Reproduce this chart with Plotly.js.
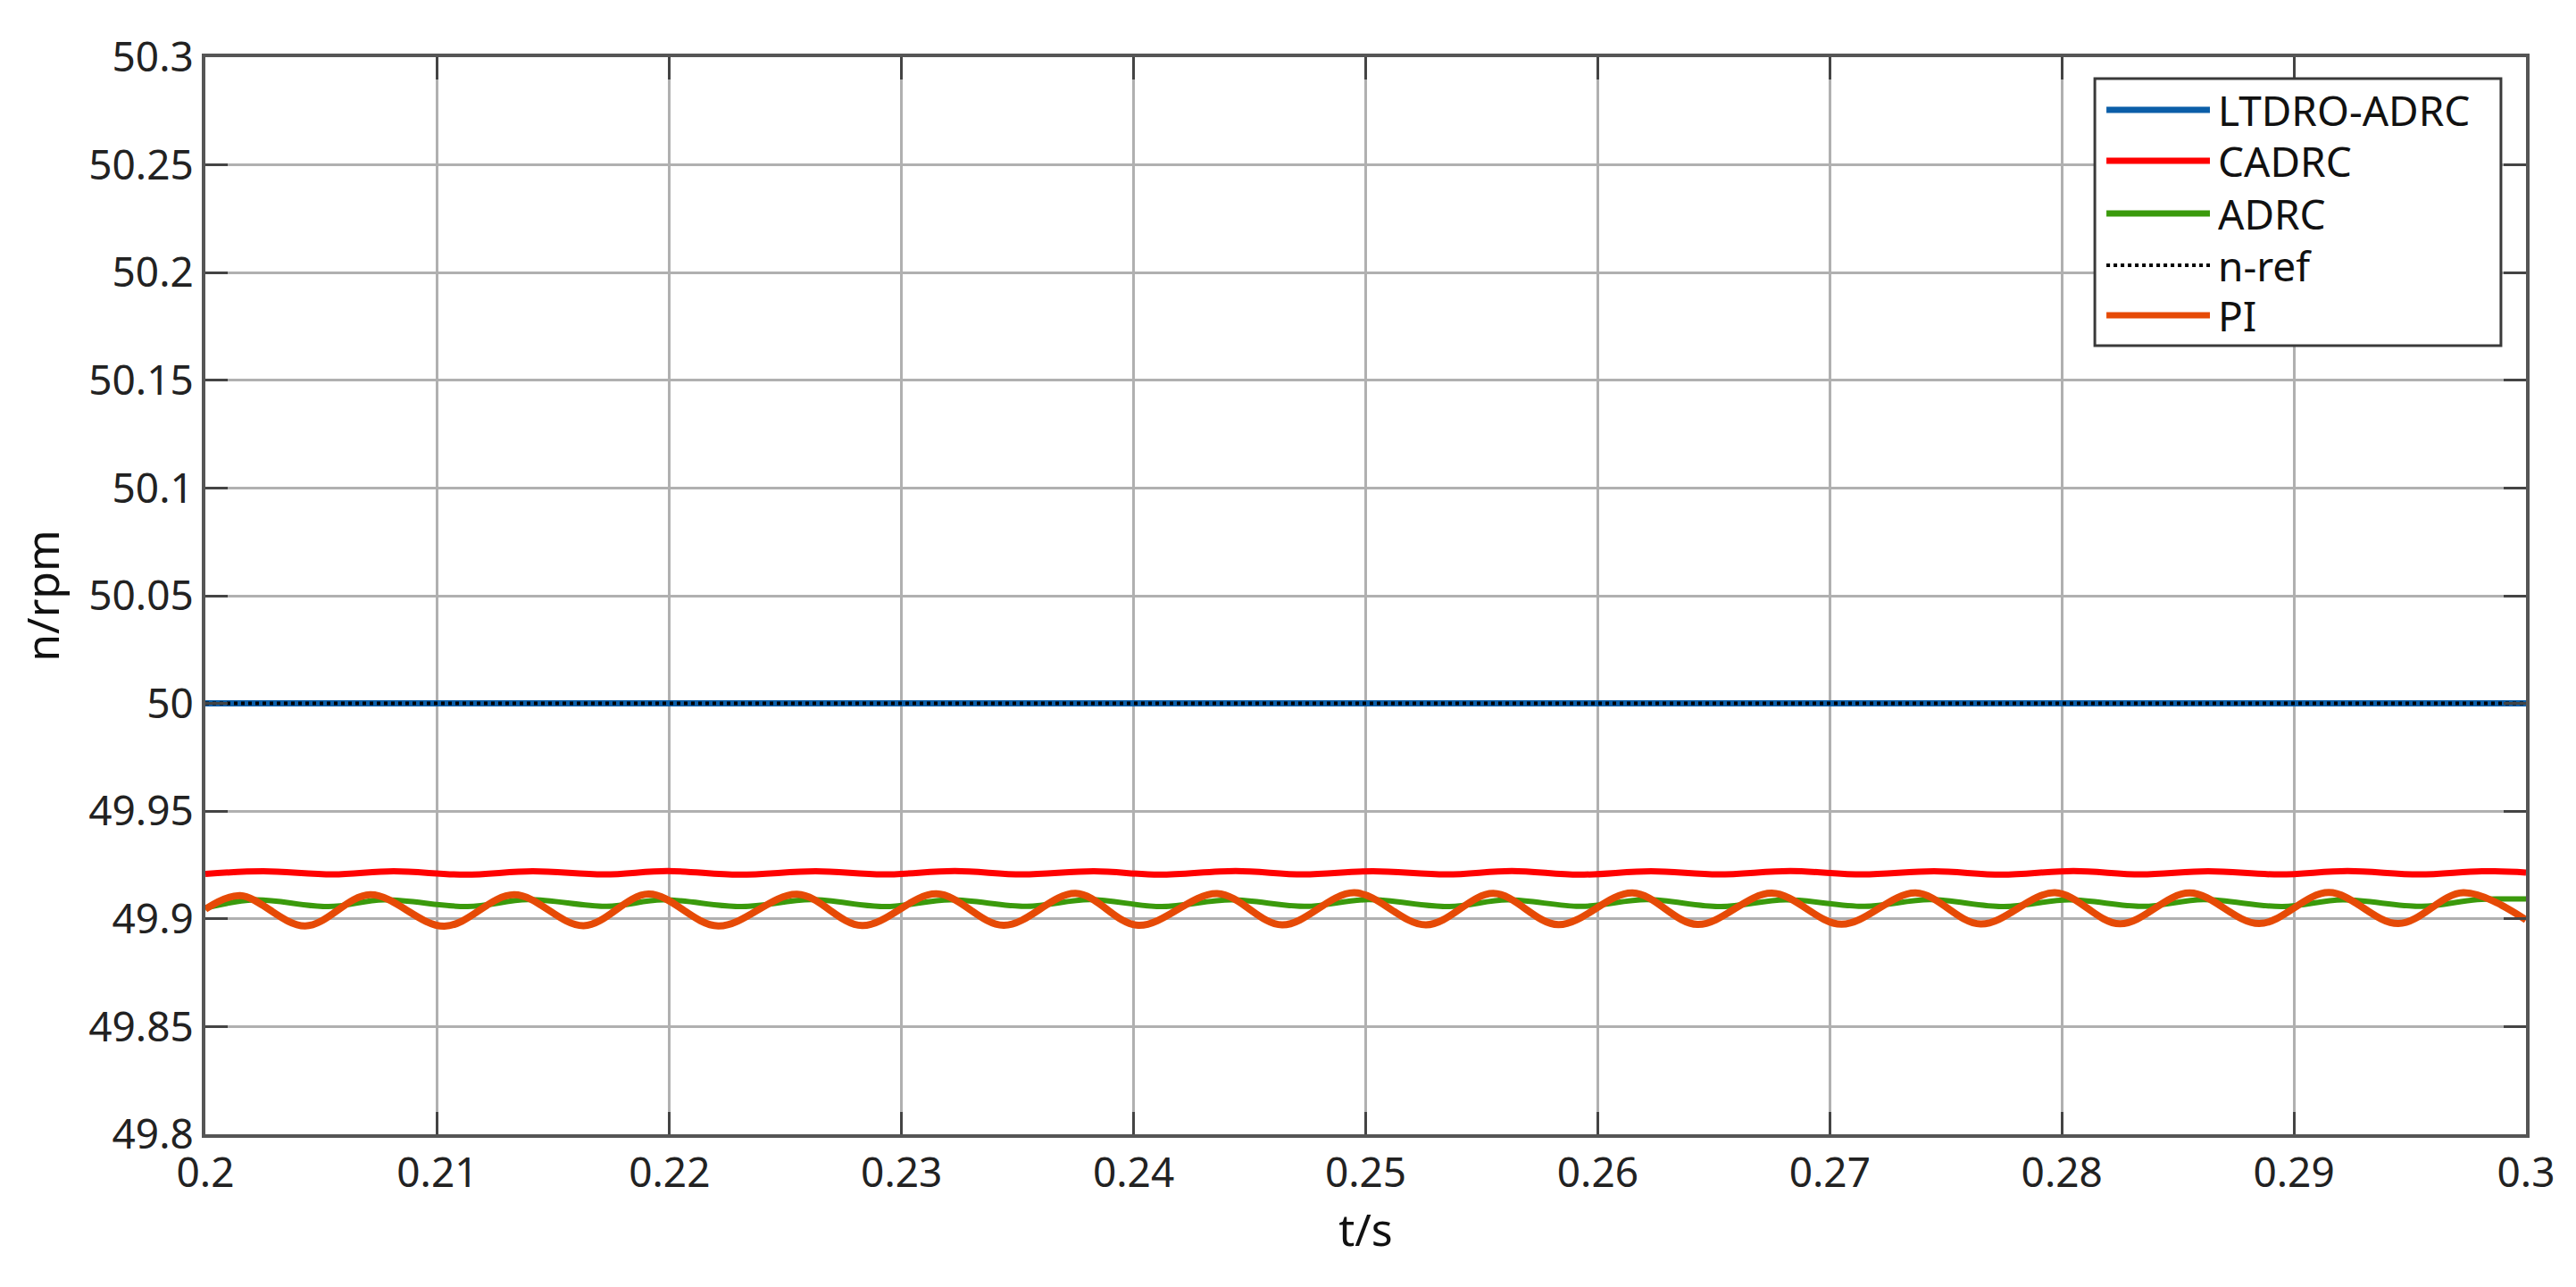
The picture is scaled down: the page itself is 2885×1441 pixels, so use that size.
<!DOCTYPE html>
<html>
<head>
<meta charset="utf-8">
<script src="https://cdn.plot.ly/plotly-3.0.1.min.js"></script>
<style>
  html, body { margin: 0; padding: 0; background: #fff; }
  #chart { width: 2885px; height: 1441px; }
</style>
</head>
<body>
<div id="chart"></div>
<script>
// reference speed and LTDRO-ADRC both sit flat on 50 rpm
var tFlat = [0.2, 0.3];
var nRef = [50, 50];
var nLtdro = [50, 50];

// CADRC: small ripple around 49.921
var tCadrc = [0.2000, 0.2025, 0.2055, 0.2081, 0.2112, 0.2141, 0.2172, 0.2199, 0.2230, 0.2263,
              0.2292, 0.2323, 0.2352, 0.2383, 0.2411, 0.2444, 0.2473, 0.2503, 0.2535, 0.2563,
              0.2592, 0.2623, 0.2652, 0.2683, 0.2714, 0.2745, 0.2774, 0.2805, 0.2834, 0.2863,
              0.2894, 0.2923, 0.2954, 0.2981, 0.3000];
var nCadrc = [49.9209, 49.9221, 49.9206, 49.9221, 49.9205, 49.9221, 49.9206, 49.9222, 49.9205, 49.9221,
              49.9206, 49.9222, 49.9206, 49.9221, 49.9205, 49.9222, 49.9206, 49.9221, 49.9206, 49.9222,
              49.9205, 49.9221, 49.9206, 49.9222, 49.9206, 49.9221, 49.9205, 49.9222, 49.9206, 49.9221,
              49.9206, 49.9222, 49.9206, 49.9221, 49.9215];

// ADRC
var tAdrc = [0.2000, 0.2021, 0.2053, 0.2077, 0.2113, 0.2139, 0.2173, 0.2197, 0.2231, 0.2261,
             0.2293, 0.2321, 0.2354, 0.2381, 0.2412, 0.2442, 0.2474, 0.2501, 0.2536, 0.2561,
             0.2593, 0.2621, 0.2653, 0.2681, 0.2715, 0.2743, 0.2775, 0.2803, 0.2835, 0.2861,
             0.2895, 0.2921, 0.2955, 0.2979, 0.3000];
var nAdrc = [49.9050, 49.9088, 49.9057, 49.9088, 49.9057, 49.9089, 49.9058, 49.9088, 49.9057, 49.9089,
             49.9057, 49.9088, 49.9058, 49.9089, 49.9057, 49.9088, 49.9058, 49.9089, 49.9057, 49.9088,
             49.9058, 49.9089, 49.9057, 49.9088, 49.9058, 49.9089, 49.9057, 49.9088, 49.9058, 49.9089,
             49.9057, 49.9088, 49.9058, 49.9089, 49.9092];

// PI: the big ripple, peaks and troughs
var tPi = [0.2000, 0.2015, 0.2043, 0.2071, 0.2103, 0.2133, 0.2163, 0.2191, 0.2221, 0.2255,
           0.2283, 0.2315, 0.2344, 0.2375, 0.2402, 0.2436, 0.2464, 0.2495, 0.2526, 0.2555,
           0.2583, 0.2615, 0.2643, 0.2675, 0.2705, 0.2737, 0.2765, 0.2797, 0.2825, 0.2855,
           0.2885, 0.2915, 0.2945, 0.2973, 0.3000];
var nPi = [49.9045, 49.9108, 49.8967, 49.9112, 49.8966, 49.9112, 49.8968, 49.9115, 49.8967, 49.9114,
           49.8969, 49.9116, 49.8970, 49.9118, 49.8970, 49.9117, 49.8972, 49.9121, 49.8972, 49.9118,
           49.8973, 49.9120, 49.8974, 49.9119, 49.8975, 49.9120, 49.8976, 49.9121, 49.8977, 49.9120,
           49.8978, 49.9122, 49.8978, 49.9121, 49.8995];

var xTicks = [0.2, 0.21, 0.22, 0.23, 0.24, 0.25, 0.26, 0.27, 0.28, 0.29, 0.3];
var yTicks = [49.8, 49.85, 49.9, 49.95, 50, 50.05, 50.1, 50.15, 50.2, 50.25, 50.3];

var names = ['LTDRO-ADRC', 'CADRC', 'ADRC', 'n-ref', 'PI'];
var colors = ['#0b5ea8', '#ff0000', '#3a9a0c', '#000000', '#e64a06'];

var ltdro = {
    x: tFlat, y: nLtdro, name: names[0], mode: 'lines',
    line: { color: colors[0], width: 7 }
};
var cadrc = {
    x: tCadrc, y: nCadrc, name: names[1], mode: 'lines',
    line: { color: colors[1], width: 7, shape: 'spline', smoothing: 1 }
};
var adrc = {
    x: tAdrc, y: nAdrc, name: names[2], mode: 'lines',
    line: { color: colors[2], width: 6, shape: 'spline', smoothing: 1 }
};
var ref = {
    x: tFlat, y: nRef, name: names[3], mode: 'lines',
    line: { color: colors[3], width: 4, dash: 'dot' }
};
var pi = {
    x: tPi, y: nPi, name: names[4], mode: 'lines',
    line: { color: colors[4], width: 8, shape: 'spline', smoothing: 1 }
};

// hand-drawn legend box like the matlab one (long line samples)
var legX0 = 0.8142, legX1 = 0.9892, legTop = 0.9801, legBottom = 0.7322;
var shapes = [{
    type: 'rect', xref: 'paper', yref: 'paper',
    x0: legX0, x1: legX1, y0: legBottom, y1: legTop,
    fillcolor: '#ffffff', line: { color: '#3a3a3a', width: 3 }, layer: 'above'
}];
var annotations = [];
var rowY = [0.9511, 0.9038, 0.8549, 0.8068, 0.7604];
for (var i = 0; i < names.length; i++) {
    shapes.push({
        type: 'line', xref: 'paper', yref: 'paper',
        x0: 0.8192, x1: 0.8638, y0: rowY[i], y1: rowY[i],
        line: { color: colors[i], width: i == 3 ? 4 : 7, dash: i == 3 ? 'dot' : 'solid' },
        layer: 'above'
    });
    annotations.push({
        xref: 'paper', yref: 'paper', x: 0.8669, y: rowY[i],
        xanchor: 'left', yanchor: 'middle', showarrow: false,
        height: 50, borderpad: 0,
        text: names[i], font: { size: 46, color: '#111' }
    });
}

var layout = {
    width: 2885, height: 1441,
    margin: { l: 230, r: 56, t: 64, b: 171 },
    paper_bgcolor: '#fff', plot_bgcolor: '#fff',
    font: { family: 'Noto Sans, sans-serif', size: 46, color: '#222' },
    showlegend: false,
    xaxis: {
        range: [0.2, 0.3], tickvals: xTicks,
        showgrid: true, gridcolor: '#b0b0b0', gridwidth: 3,
        zeroline: false, showline: true, linecolor: '#555', linewidth: 4, mirror: 'ticks',
        ticks: 'inside', ticklen: 25, tickwidth: 3, tickcolor: '#444',
        title: { text: 't/s', font: { size: 50, color: '#111' }, standoff: 18 },
        automargin: false
    },
    yaxis: {
        range: [49.8, 50.3], tickvals: yTicks,
        showgrid: true, gridcolor: '#b0b0b0', gridwidth: 3,
        zeroline: false, showline: true, linecolor: '#555', linewidth: 4, mirror: 'ticks',
        ticks: 'inside', ticklen: 25, tickwidth: 3, tickcolor: '#444',
        title: { text: 'n/rpm', font: { size: 50, color: '#111' }, standoff: 18 },
        automargin: false
    },
    shapes: shapes,
    annotations: annotations
};

Plotly.newPlot('chart', [ltdro, cadrc, adrc, ref, pi], layout, { staticPlot: true });
</script>
</body>
</html>
